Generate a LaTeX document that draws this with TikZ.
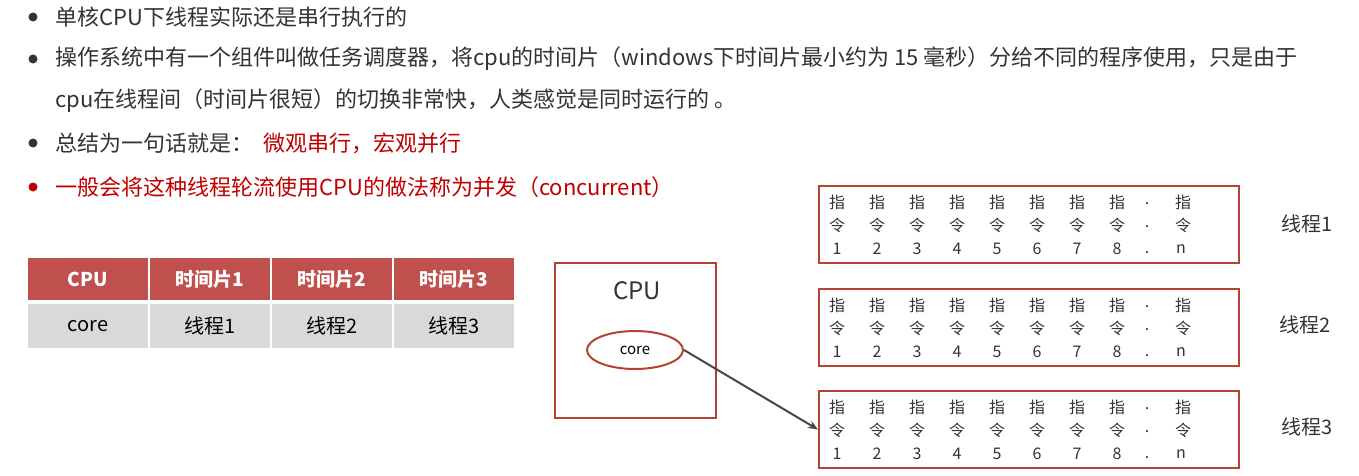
\documentclass[tikz,border=0pt]{standalone}
\usepackage{fontspec}
\setmainfont{Noto Sans CJK SC}
\usetikzlibrary{arrows.meta,shapes.geometric}
\definecolor{rd}{HTML}{C00000}
\definecolor{hd}{HTML}{C0504D}
\definecolor{bx}{HTML}{B5432F}
\definecolor{gr}{HTML}{D9D9D9}
\definecolor{tx}{HTML}{333333}
\begin{document}
\begin{tikzpicture}[x=1pt,y=-1pt,
  txt/.style={anchor=west,inner sep=0,font=\fontsize{22}{26}\selectfont,text=tx},
  bul/.style={circle,fill=#1,inner sep=0,minimum size=9pt},
  hcell/.style={fill=hd,text=white,font=\fontsize{19}{22}\selectfont\bfseries,minimum width=120pt,minimum height=42pt,inner sep=0},
  rcell/.style={fill=gr,text=black,font=\fontsize{20}{24}\selectfont,minimum width=120pt,minimum height=44pt,inner sep=0},
  tbox/.style={draw=bx,line width=2pt,minimum width=420pt,minimum height=77pt,inner sep=0},
  ins/.style={font=\fontsize{16}{18}\selectfont,text=tx,inner sep=0},
  lab/.style={font=\fontsize{20}{24}\selectfont,text=tx,inner sep=0}]
\useasboundingbox (0,0) rectangle (1359,476);
\node[bul=tx] (b1) at (33,17) {};
\node[txt] (t1) at (55,17) {单核CPU下线程实际还是串行执行的};
\node[bul=tx] (b2) at (33,59) {};
\node[txt] (t2) at (55,59) {操作系统中有一个组件叫做任务调度器，将cpu的时间片（windows下时间片最小约为 15 毫秒）分给不同的程序使用，只是由于};
\node[txt] (t2b) at (55,101) {cpu在线程间（时间片很短）的切换非常快，人类感觉是同时运行的 。};
\node[bul=tx] (b3) at (33,143) {};
\node[txt] (t3) at (55,143) {总结为一句话就是：\ \ \textcolor{rd}{微观串行，宏观并行}};
\node[bul=rd] (b4) at (33,187) {};
\node[txt,text=rd] (t4) at (55,187) {一般会将这种线程轮流使用CPU的做法称为并发（concurrent）};
% table
\node[hcell] (h0) at (88,279) {CPU};
\node[hcell] (h1) at (210,279) {时间片1};
\node[hcell] (h2) at (332,279) {时间片2};
\node[hcell] (h3) at (454,279) {时间片3};
\node[rcell] (r0) at (88,326) {core};
\node[rcell] (r1) at (210,326) {线程1};
\node[rcell] (r2) at (332,326) {线程2};
\node[rcell] (r3) at (454,326) {线程3};
% cpu
\node[draw=bx,line width=2pt,minimum width=161pt,minimum height=155pt,inner sep=0] (cpu) at (635.5,340.5) {};
\node[font=\fontsize{24}{28}\selectfont,text=tx] (cpul) at (637,291) {CPU};
\node[draw=bx,line width=2pt,ellipse,minimum width=96pt,minimum height=38pt,inner sep=0,font=\fontsize{15}{18}\selectfont] (core) at (635,350) {core};
% threads
\foreach \i/\y in {1/185,2/288,3/390}{
  \node[tbox,anchor=north west] (th\i) at (818,\y) {};
  \foreach \n/\x in {1/837,2/877,3/917,4/957,5/997,6/1037,7/1077,8/1117}{
    \node[ins] (c\i\n) at (\x,\y+17) {指};
    \node[ins] (d\i\n) at (\x,\y+40) {令};
    \node[ins] (e\i\n) at (\x,\y+64) {\n};
  }
  \node[ins] (cd\i) at (1147,\y+19) {.};
  \node[ins] (dd\i) at (1147,\y+42) {.};
  \node[ins] (ed\i) at (1147,\y+68) {.};
  \node[ins] (cn\i) at (1183,\y+17) {指};
  \node[ins] (dn\i) at (1183,\y+40) {令};
  \node[ins] (en\i) at (1181,\y+64) {n};
}
\node[lab] (l1) at (1307,224) {线程1};
\node[lab] (l2) at (1305,325) {线程2};
\node[lab] (l3) at (1307,427) {线程3};
\draw[draw=tx!90,line width=2pt,-{Stealth[length=10pt,width=8pt]}] (core.east) -- (th3.west);
\end{tikzpicture}
\end{document}
